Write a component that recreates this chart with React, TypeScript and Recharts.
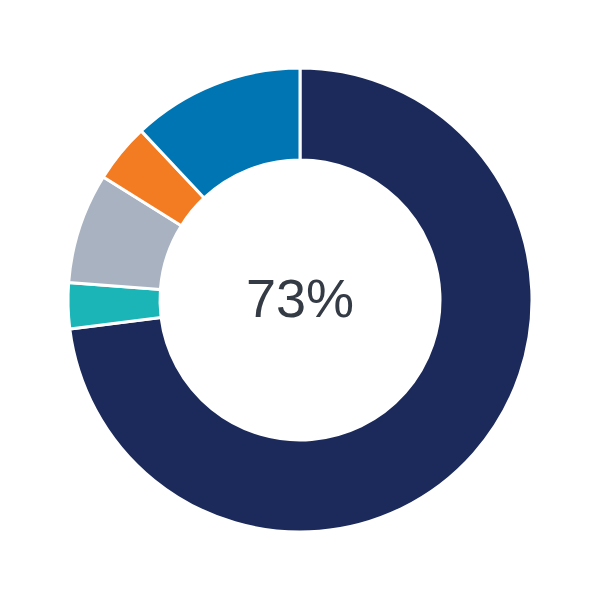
import React from "react";
import { PieChart, Pie, Cell } from "recharts";

// Share of each segment, clockwise from 12 o'clock
const segments = ["Primary", "Teal", "Gray", "Orange", "Blue"];
const shares = [73, 3.2, 7.7, 4.1, 12];
const colors = ["#1b2a5a", "#1bb5b7", "#a8b2c1", "#f37b21", "#0075b4"];
const centerLabel = "73%";

const data = segments.map((name, i) => ({ name, value: shares[i] }));

export default function App() {
  return (
    <div style={{ position: "absolute", left: 0, top: 0, width: 600, height: 600, background: "#fff" }}>
      <PieChart width={600} height={600} margin={{ top: 0, right: 0, bottom: 0, left: 0 }}>
        <Pie
          data={data}
          dataKey="value"
          nameKey="name"
          cx="50%"
          cy="50%"
          innerRadius={140}
          outerRadius={232}
          startAngle={90}
          endAngle={-270}
          stroke="#ffffff"
          strokeWidth={3}
          isAnimationActive={false}
        >
          {data.map((d, i) => (
            <Cell key={d.name} fill={colors[i]} />
          ))}
        </Pie>
        <text
          x={300}
          y={298}
          textAnchor="middle"
          dominantBaseline="central"
          fontFamily="Liberation Sans, Arial, sans-serif"
          fontSize={54}
          fill="#353b45"
        >
          {centerLabel}
        </text>
      </PieChart>
    </div>
  );
}
